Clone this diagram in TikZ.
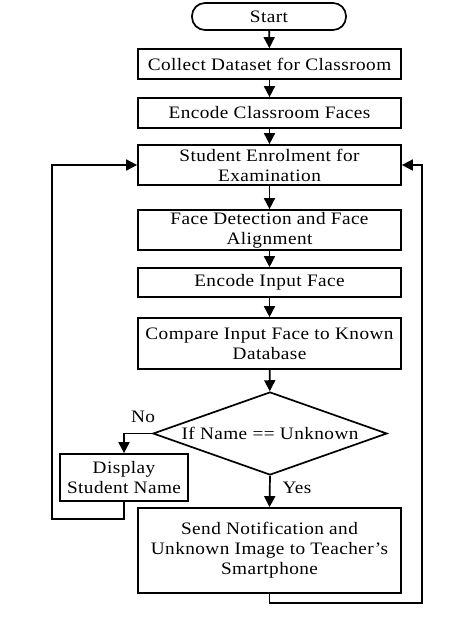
\documentclass[tikz,border=0pt]{standalone}
\usepackage{fontspec}
\setmainfont{Liberation Serif}[FakeStretch=1.1,LetterSpace=2.5]
\usetikzlibrary{shapes.geometric,arrows.meta}
\begin{document}
\begin{tikzpicture}[x=1pt,y=-1pt,
  every node/.style={font=\fontsize{17.5}{20}\selectfont},
  proc/.style={draw,line width=1.7pt,minimum width=263pt,inner sep=0pt,align=center},
  term/.style={draw,line width=1.7pt,rounded corners=13pt,minimum width=154pt,minimum height=27pt,inner sep=0pt},
  dec/.style={draw,line width=1.7pt,diamond,aspect=2.82,minimum width=234pt,minimum height=83pt,inner sep=0pt},
  conn/.style={line width=1.7pt,-{Triangle[length=11pt,width=11pt]}},
  lbl/.style={inner sep=0pt}]
\useasboundingbox (0,0) rectangle (474,619);
\node[term] (start) at (269,16.5) {Start};
\node[proc,minimum height=30pt] (collect) at (269.5,64) {Collect Dataset for Classroom};
\node[proc,minimum height=30pt] (enc1) at (269.5,113) {Encode Classroom Faces};
\node[proc,minimum height=40pt] (enrol) at (269.5,165) {Student Enrolment for\\Examination};
\node[proc,minimum height=40pt] (detect) at (269.5,230) {Face Detection and Face\\Alignment};
\node[proc,minimum height=29pt] (enc2) at (269.5,282.5) {Encode Input Face};
\node[proc,minimum height=51pt] (compare) at (269.5,343.5) {Compare Input Face to Known\\Database};
\node[dec] (dec) at (270,433.5) {If Name == Unknown};
\node[proc,minimum width=128pt,minimum height=47pt] (display) at (124,477.5) {Display\\Student Name};
\node[proc,minimum height=85pt] (send) at (269.5,550.5) {Send Notification and\\Unknown Image to Teacher's\\Smartphone};
\node[lbl] (no) at (143,417) {No};
\node[lbl] (yes) at (297,488) {Yes};
\coordinate (l1) at (124,519);
\coordinate (l2) at (52,519);
\coordinate (l3) at (52,165);
\coordinate (r1) at (269.5,603);
\coordinate (r2) at (422,603);
\coordinate (r3) at (422,165);
\draw[conn] (start) -- (collect);
\draw[conn] (collect) -- (enc1);
\draw[conn] (enc1) -- (enrol);
\draw[conn] (enrol) -- (detect);
\draw[conn] (detect) -- (enc2);
\draw[conn] (enc2) -- (compare);
\draw[conn] (compare) -- (dec);
\draw[conn] (dec.south) -- (send.north);
\draw[conn] (dec.west) -| (display.north);
\draw[conn] (display.south) -- (l1) -- (l2) -- (l3) -- (enrol.west);
\draw[conn] (send.south) -- (r1) -- (r2) -- (r3) -- (enrol.east);
\end{tikzpicture}
\end{document}
